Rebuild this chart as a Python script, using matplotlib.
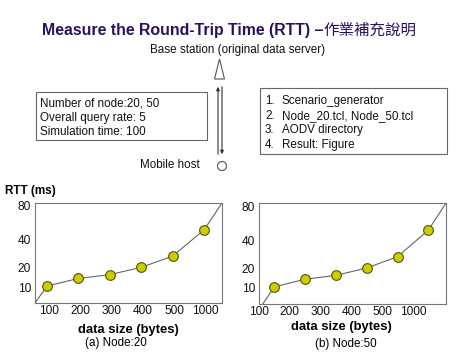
import numpy as np
import matplotlib
matplotlib.use("Agg")
import matplotlib.pyplot as plt
from matplotlib.patches import Rectangle, Polygon, Circle, FancyArrowPatch

plt.rcParams['font.family'] = ['Liberation Sans', 'Noto Sans CJK TC', 'DejaVu Sans']

# ---- data ----
categories = ["100", "200", "300", "400", "500", "1000"]
rtt_node20 = [10.5, 14.5, 16.5, 20.5, 28.5, 52]
rtt_node50 = [10.5, 14.5, 16.5, 20.5, 28.5, 52]
y_ticks = [10, 20, 40, 80]
panel_labels = ["(a) Node:20", "(b) Node:50"]

# hand-drawn (non-linear) y axis of the original slide
_vals = np.array([0, 10, 20, 40, 80, 84], dtype=float)
_pos = np.array([0, 16, 35, 63, 97, 100], dtype=float)
def fwd(v):
    return np.interp(v, _vals, _pos)
def inv(p):
    return np.interp(p, _pos, _vals)

W, H = 474, 355
fig = plt.figure(figsize=(W / 100, H / 100), dpi=100)

def fx(px):
    return px / W
def fy(py):
    return 1 - py / H

FS = 8.4
txt = '#111111'
title_color = '#2a1060'
fig.text(fx(323), fy(30), "Measure the Round-Trip Time (RTT) \u2013", ha='right', va='center',
         fontsize=11.4, fontweight='bold', color=title_color)
fig.text(fx(323), fy(30), "作業補充說明", ha='left', va='center',
         fontsize=11.2, color=title_color, family=['Noto Sans CJK TC', 'DejaVu Sans'])
fig.text(fx(237), fy(50), "Base station (original data server)", ha='center', va='center',
         fontsize=FS, color=txt)

# overlay for diagram shapes in pixel coords
ov = fig.add_axes([0, 0, 1, 1])
ov.set_xlim(0, W)
ov.set_ylim(H, 0)
ov.axis('off')
ov.add_patch(Polygon([[219.5, 59], [214.5, 79], [224.5, 79]], closed=True, fill=False,
                     edgecolor='#555555', lw=0.8))
ov.add_patch(FancyArrowPatch((218, 157), (218, 84), arrowstyle='-|>', mutation_scale=5,
                             color='#333333', lw=0.8))
ov.add_patch(FancyArrowPatch((222, 84), (222, 157), arrowstyle='-|>', mutation_scale=5,
                             color='#333333', lw=0.8))
ov.add_patch(Circle((222, 166), 4.5, fill=False, edgecolor='#555555', lw=0.8))
ov.text(200, 165, "Mobile host", ha='right', va='center', fontsize=FS, color=txt)

ov.add_patch(Rectangle((36, 92), 171, 48, fill=False, edgecolor='#666666', lw=0.8))
for i, s in enumerate(["Number of node:20, 50", "Overall query rate: 5", "Simulation time: 100"]):
    ov.text(40, 106 + 14.5 * i, s, ha='left', va='baseline', fontsize=FS, color=txt)

ov.add_patch(Rectangle((260, 88), 187, 66, fill=False, edgecolor='#666666', lw=0.8))
for i, s in enumerate(["Scenario_generator", "Node_20.tcl, Node_50.tcl", "AODV directory", "Result: Figure"]):
    ov.text(265, 104 + 14.7 * i, f"{i + 1}.", ha='left', va='baseline', fontsize=FS, color=txt)
    ov.text(282, 104 + 14.7 * i, s, ha='left', va='baseline', fontsize=FS, color=txt)

fig.text(fx(5), fy(191), "RTT (ms)", ha='left', va='center', fontsize=FS, fontweight='bold')

def panel(rect, values, tick_shift, xlab_xy, cap_xy, caption):
    ax = fig.add_axes(rect)
    ax.set_yscale('function', functions=(fwd, inv))
    x = np.arange(len(values))
    xmin, xmax = -0.38, len(values) - 1 + 0.57
    ymin, ymax = 0, 84
    ax.set_xlim(xmin, xmax)
    ax.set_ylim(ymin, ymax)
    ax.plot(np.concatenate([[xmin], x, [xmax]]), np.concatenate([[ymin], values, [ymax]]),
            color='#666666', lw=0.8, zorder=2)
    ax.plot(x, values, 'o', ms=7, mfc='#cccc00', mec='#555500', mew=0.8, zorder=3)
    ax.set_yticks(y_ticks)
    ax.set_yticklabels([str(t) for t in y_ticks])
    ax.yaxis.set_minor_locator(matplotlib.ticker.NullLocator())
    ax.set_xticks(x + tick_shift)
    ax.set_xticklabels(categories)
    ax.tick_params(length=0, labelsize=8.6, colors=txt)
    ax.tick_params(axis='y', pad=3)
    ax.tick_params(axis='x', pad=1.5)
    for sp in ax.spines.values():
        sp.set_color('#777777')
        sp.set_linewidth(0.8)
    fig.text(fx(xlab_xy[0]), fy(xlab_xy[1]), "data size (bytes)", ha='center', va='center',
             fontsize=9.4, fontweight='bold')
    fig.text(fx(cap_xy[0]), fy(cap_xy[1]), caption, ha='center', va='center', fontsize=FS)
    return ax

panel([fx(35), fy(303), fx(222) - fx(35), fy(203) - fy(303)], rtt_node20, 0.05,
      (128, 330), (116, 343), panel_labels[0])
panel([fx(259), fy(304), fx(446) - fx(259), fy(203) - fy(304)], rtt_node50, -0.5,
      (341, 327), (346, 344), panel_labels[1])

fig.savefig("out.png", dpi=100)
